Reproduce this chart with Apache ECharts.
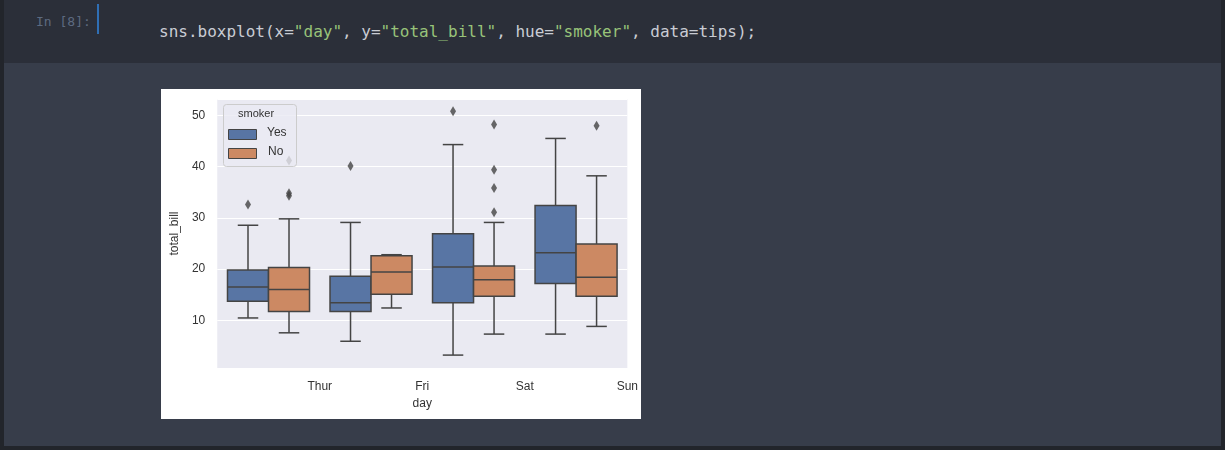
<!DOCTYPE html>
<html><head><meta charset="utf-8">
<script src="https://cdn.jsdelivr.net/npm/echarts@6/dist/echarts.min.js"></script>
<style>
  body { margin:0; width:1225px; height:450px; background:#22252b; overflow:hidden; font-family:"DejaVu Sans Mono", monospace; }
  #input { position:absolute; left:4px; top:0; width:1217px; height:63px; background:#2b2f39; }
  #prompt { position:absolute; left:32px; top:14px; color:#5d6a80; font-size:13px; }
  #bar { position:absolute; left:93px; top:4px; width:2px; height:30px; background:#2f6fb5; }
  #code { position:absolute; left:155px; top:22px; color:#c9ccd4; font-size:16px; }
  .s { color:#98c379; }
  #output { position:absolute; left:4px; top:63px; width:1217px; height:383px; background:#373d4a; }
  #chart { position:absolute; left:161px; top:89px; width:480px; height:330px; background:#fff; }
</style></head>
<body>
<div id="input"><div id="prompt">In [8]:</div><div id="bar"></div>
<div id="code">sns.boxplot(x=<span class="s">"day"</span>, y=<span class="s">"total_bill"</span>, hue=<span class="s">"smoker"</span>, data=tips);</div></div>
<div id="output"></div>
<div id="chart"></div>
<script>
const days = ['Thur', 'Fri', 'Sat', 'Sun'];
const hues = ['Yes', 'No'];
// [low whisker, Q1, median, Q3, high whisker]
const yesBoxes = [
  [10.45, 13.7, 16.5, 19.8, 28.55],
  [5.9, 11.7, 13.4, 18.6, 29.1],
  [3.2, 13.4, 20.4, 26.9, 44.3],
  [7.3, 17.2, 23.2, 32.4, 45.5]
];
const noBoxes = [
  [7.55, 11.7, 16.0, 20.3, 29.8],
  [12.4, 15.1, 19.4, 22.6, 22.8],
  [7.3, 14.7, 17.9, 20.6, 29.1],
  [8.8, 14.7, 18.4, 24.9, 38.2]
];
// [day index, value]
const yesOutliers = [[0, 32.6], [1, 40.1], [2, 50.8]];
const noOutliers = [[0, 34.8], [0, 34.3], [0, 41.2], [2, 48.2], [2, 39.4], [2, 35.8], [2, 31.1], [3, 48.0]];

const colors = ['#5875a4', '#cc8963'];
const edge = '#444444';
const offsets = [-0.2, 0.2];

function boxSeries(boxes, k) {
  return {
    type: 'custom',
    data: boxes.map((b, i) => [i + offsets[k]].concat(b)),
    encode: { x: 0, y: [1, 2, 3, 4, 5] },
    renderItem: function (params, api) {
      const x = api.value(0);
      const w = api.size([0.4, 0])[0];
      const lo = api.coord([x, api.value(1)]);
      const q1 = api.coord([x, api.value(2)]);
      const md = api.coord([x, api.value(3)]);
      const q3 = api.coord([x, api.value(4)]);
      const hi = api.coord([x, api.value(5)]);
      const cx = lo[0], half = w / 2, cap = w / 4;
      const ls = { stroke: edge, lineWidth: 1.5 };
      return {
        type: 'group',
        children: [
          { type: 'line', shape: { x1: cx, y1: q1[1], x2: cx, y2: lo[1] }, style: ls },
          { type: 'line', shape: { x1: cx, y1: q3[1], x2: cx, y2: hi[1] }, style: ls },
          { type: 'line', shape: { x1: cx - cap, y1: lo[1], x2: cx + cap, y2: lo[1] }, style: ls },
          { type: 'line', shape: { x1: cx - cap, y1: hi[1], x2: cx + cap, y2: hi[1] }, style: ls },
          { type: 'rect', shape: { x: cx - half, y: q3[1], width: w, height: q1[1] - q3[1] },
            style: { fill: colors[k], stroke: edge, lineWidth: 1.5 } },
          { type: 'line', shape: { x1: cx - half, y1: md[1], x2: cx + half, y2: md[1] }, style: ls }
        ]
      };
    }
  };
}

function outlierSeries(pts, k) {
  return {
    type: 'scatter',
    symbol: 'diamond',
    symbolSize: [6, 10],
    itemStyle: { color: edge },
    data: pts.map(p => [p[0] + offsets[k], p[1]]),
    z: 1
  };
}

const chart = echarts.init(document.getElementById('chart'));
const labelFont = { fontFamily: 'Liberation Sans, Arial, sans-serif', fontSize: 12, color: '#333' };
chart.setOption({
  animation: false,
  grid: { left: 55, top: 10, width: 417, height: 269, backgroundColor: '#eaeaf2', show: true, borderWidth: 0 },
  xAxis: {
    type: 'value', min: -0.5, max: 3.5, interval: 1,
    name: 'day', nameLocation: 'middle', nameGap: 28,
    nameTextStyle: Object.assign({ fontSize: 13 }, labelFont),
    axisLine: { show: false }, axisTick: { show: false }, splitLine: { show: false },
    axisLabel: Object.assign({ margin: 13, formatter: v => days[Math.round(v + 0.5) - 1] !== undefined && Math.abs(v - Math.round(v)) > 0.4 ? days[Math.round(v + 0.5) - 1] : '' }, labelFont)
  },
  yAxis: {
    type: 'value', min: 0.68, max: 53.2,
    name: 'total_bill', nameLocation: 'middle', nameGap: 33,
    nameTextStyle: Object.assign({ fontSize: 13 }, labelFont),
    axisLine: { show: false }, axisTick: { show: false },
    splitLine: { lineStyle: { color: '#ffffff', width: 1.2 } },
    axisLabel: Object.assign({ margin: 12, customValues: [10, 20, 30, 40, 50] }, labelFont)
  },
  series: [boxSeries(yesBoxes, 0), boxSeries(noBoxes, 1), outlierSeries(yesOutliers, 0), outlierSeries(noOutliers, 1)],
  graphic: [
    { type: 'rect', left: 62, top: 15, z: 100, shape: { width: 73, height: 62, r: 3 },
      style: { fill: 'rgba(234,234,242,0.8)', stroke: '#cccccc', lineWidth: 1 } },
    { type: 'text', left: 77, top: 19, z: 101, style: { text: 'smoker', fontSize: 11, fill: '#333', fontFamily: 'Liberation Sans, Arial, sans-serif' } },
    { type: 'rect', left: 67, top: 40, z: 101, shape: { width: 28, height: 10 }, style: { fill: colors[0], stroke: edge, lineWidth: 1 } },
    { type: 'text', left: 106, top: 38, z: 101, style: { text: hues[0], fontSize: 12, fill: '#333', fontFamily: 'Liberation Sans, Arial, sans-serif' } },
    { type: 'rect', left: 67, top: 59, z: 101, shape: { width: 28, height: 10 }, style: { fill: colors[1], stroke: edge, lineWidth: 1 } },
    { type: 'text', left: 107, top: 57, z: 101, style: { text: hues[1], fontSize: 12, fill: '#333', fontFamily: 'Liberation Sans, Arial, sans-serif' } }
  ]
});
</script>
</body></html>
